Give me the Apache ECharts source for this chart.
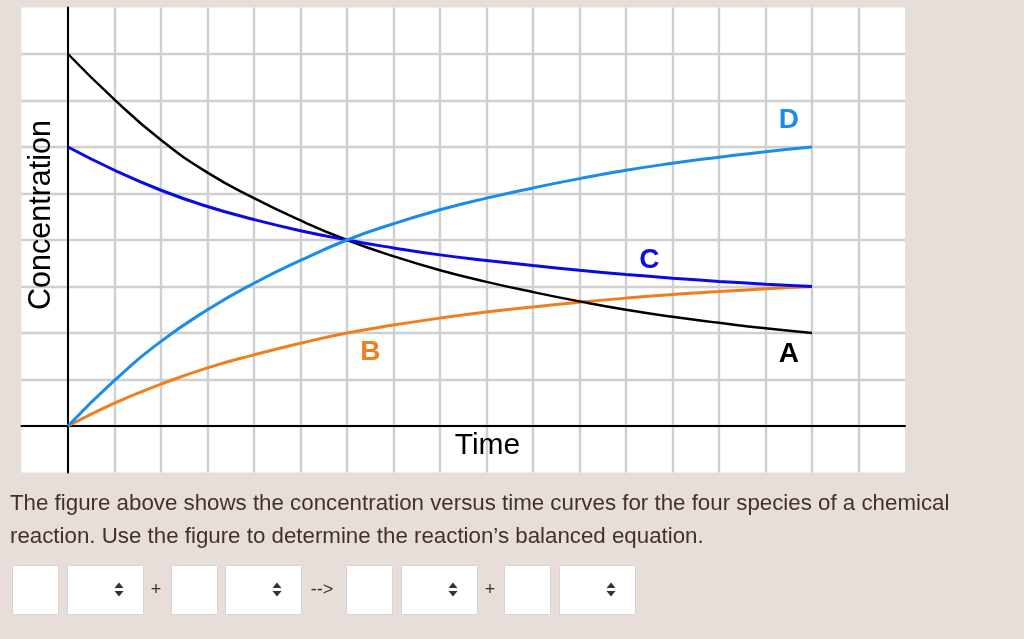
<!DOCTYPE html>
<html>
<head>
<meta charset="utf-8">
<script src="https://cdn.jsdelivr.net/npm/echarts@6/dist/echarts.min.js"></script>
<style>
html,body{margin:0;padding:0;background:#e7ded9;}
#c{width:1024px;height:639px;}
</style>
</head>
<body>
<div id="c"></div>
<script>
const times = [0,1,2,3,4,5,6,7,8,9,10,11,12,13,14,15,16];
const seriesA = [8, 7.02, 6.15, 5.45, 4.9, 4.42, 4.0, 3.65, 3.35, 3.1, 2.88, 2.68, 2.5, 2.35, 2.22, 2.1, 2.0];
const seriesB = [0, 0.49, 0.9, 1.25, 1.53, 1.78, 2.0, 2.17, 2.32, 2.45, 2.56, 2.66, 2.75, 2.83, 2.89, 2.95, 3.0];
const seriesC = [6, 5.5, 5.07, 4.72, 4.44, 4.2, 4.0, 3.83, 3.68, 3.56, 3.45, 3.35, 3.26, 3.18, 3.11, 3.05, 3.0];
const seriesD = [0, 0.98, 1.82, 2.5, 3.07, 3.56, 4.0, 4.35, 4.65, 4.9, 5.12, 5.32, 5.5, 5.65, 5.78, 5.9, 6.0];
const curveNames = ['A','B','C','D'];
const labelCoords = {A:[15.5,1.55], B:[6.5,1.59], C:[12.5,3.57], D:[15.5,6.58]};
const axisTitles = {x:'Time', y:'Concentration'};
const caption1 = 'The figure above shows the concentration versus time curves for the four species of a chemical';
const caption2 = 'reaction. Use the figure to determine the reaction\u2019s balanced equation.';
const equationOps = ['+','-->','+'];

const colors = {A:'#000000', B:'#f07e1c', C:'#0a0ae6', D:'#1a8cec'};
const dataMap = {A:seriesA, B:seriesB, C:seriesC, D:seriesD};
const FONT = '"Liberation Sans", Arial, Helvetica, sans-serif';

const chart = echarts.init(document.getElementById('c'));

function mkSeries(name){
  return {
    name: name, type:'line', smooth:true, symbol:'none',
    data: times.map((t,i)=>[t, dataMap[name][i]]),
    lineStyle:{color:colors[name], width: name==='A'?2.5:3},
    z: name==='A'?3:(name==='B'?2:4),
    markPoint:{
      symbol:'circle', symbolSize:1, itemStyle:{color:'rgba(0,0,0,0)'},
      label:{show:true, position:'inside', formatter:name, color:colors[name],
             fontSize:28, fontWeight:'bold', fontFamily:FONT},
      data:[{coord:labelCoords[name]}]
    }
  };
}

const graphics = [];
const textColor = '#42312a';
graphics.push({type:'text', z:100, style:{text:caption1, x:10, y:504, verticalAlign:'middle', fill:textColor, font:'22.3px ' + FONT}});
graphics.push({type:'text', z:100, style:{text:caption2, x:10, y:537, verticalAlign:'middle', fill:textColor, font:'22.3px ' + FONT}});
graphics.push({type:'text', z:100, style:{text:axisTitles.x, x:487.5, y:446, align:'center', verticalAlign:'middle', fill:'#000', font:'30px ' + FONT}});
graphics.push({type:'text', z:100, rotation:Math.PI/2, x:42, y:215, style:{text:axisTitles.y, x:0, y:0, align:'center', verticalAlign:'middle', fill:'#000', font:'30.5px ' + FONT}});

const groups = [[12,67],[171,225],[346,401],[504,559]];
const opX = [156, 322, 490];
groups.forEach((g,i)=>{
  graphics.push({type:'rect', shape:{x:g[0]+0.5, y:565.5, width:46, height:49, r:1}, style:{fill:'#fff', stroke:'#d9d2ce', lineWidth:1}});
  graphics.push({type:'rect', shape:{x:g[1]+0.5, y:565.5, width:76, height:49, r:1}, style:{fill:'#fff', stroke:'#d9d2ce', lineWidth:1}});
  const ax = g[1]+52;
  graphics.push({type:'polygon', shape:{points:[[ax-4.5,588],[ax+4.5,588],[ax,582.5]]}, style:{fill:'#333'}});
  graphics.push({type:'polygon', shape:{points:[[ax-4.5,591],[ax+4.5,591],[ax,596.5]]}, style:{fill:'#333'}});
});
equationOps.forEach((op,i)=>{
  graphics.push({type:'text', style:{text:op, x:opX[i], y:590, align:'center', verticalAlign:'middle', fill:textColor, font:'18px ' + FONT}});
});

chart.setOption({
  backgroundColor:'#e7ded9',
  animation:false,
  grid:{left:21.5, right:119, top:7.5, bottom:166.5, show:true, backgroundColor:'#ffffff', borderWidth:0},
  xAxis:{type:'value', min:-1, max:18, interval:1,
    axisLabel:{show:false}, axisTick:{show:false},
    axisLine:{show:true, onZero:true, lineStyle:{color:'#000', width:2}},
    splitLine:{show:true, showMinLine:false, showMaxLine:false, lineStyle:{color:'#cfcfcf', width:2.4}}},
  yAxis:{type:'value', min:-1, max:9, interval:1,
    axisLabel:{show:false}, axisTick:{show:false},
    axisLine:{show:true, onZero:true, lineStyle:{color:'#000', width:2}},
    splitLine:{show:true, showMinLine:false, showMaxLine:false, lineStyle:{color:'#cfcfcf', width:2.4}}},
  series: curveNames.map(mkSeries),
  graphic: graphics
});
</script>
</body>
</html>
